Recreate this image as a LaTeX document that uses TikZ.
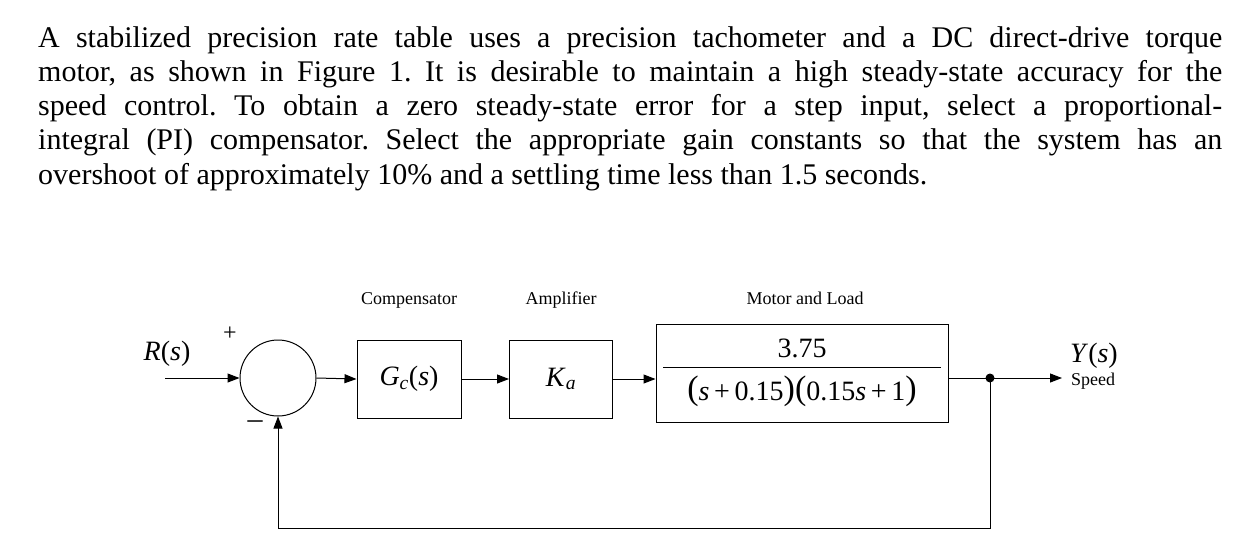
\documentclass[tikz,border=0pt]{standalone}
\usepackage{fontspec}
\setmainfont{Liberation Serif}
\frenchspacing
\usetikzlibrary{arrows.meta}
\newcommand{\iv}[1]{\textit{#1}}
\begin{document}
\begin{tikzpicture}[x=1pt,y=-1pt,
  blk/.style={draw,line width=1pt,inner sep=0pt},
  lab/.style={font=\fontsize{18}{20}\selectfont,anchor=base},
  big/.style={font=\fontsize{28}{30}\selectfont},
  sig/.style={line width=1pt,-{Triangle[length=12pt,width=9pt]}},
  wire/.style={line width=1pt}]
\useasboundingbox (0,0) rectangle (1256,558);
\node[anchor=north west,inner sep=0pt,align=left,font=\fontsize{30}{34.3}\selectfont] (para) at (38,26) {%
\makebox[1184pt][s]{A stabilized precision rate table uses a precision tachometer and a DC direct-drive torque}\\
\makebox[1184pt][s]{motor, as shown in Figure 1. It is desirable to maintain a high steady-state accuracy for the}\\
\makebox[1184pt][s]{speed control. To obtain a zero steady-state error for a step input, select a proportional-}\\
\makebox[1184pt][s]{integral (PI) compensator. Select the appropriate gain constants so that the system has an}\\
overshoot of approximately 10\% and a settling time less than 1.5 seconds.};
\node[draw,circle,line width=1pt,minimum size=76pt,inner sep=0pt] (sum) at (278,378) {};
\node[blk,minimum width=104pt,minimum height=78pt,big] (gc) at (409,379) {\iv{G}\textsubscript{\iv{c}}(\iv{s})};
\node[blk,minimum width=103pt,minimum height=78pt,big] (ka) at (561,379) {\iv{K}\textsubscript{\iv{a}}};
\node[blk,minimum width=292pt,minimum height=98pt] (ml) at (802,373) {};
\node[big,anchor=base] (num) at (802,357) {3.75};
\node[big,anchor=base] (den) at (802,400) {\raisebox{1pt}{\fontsize{34}{34}\selectfont(}\iv{s}\,+\,0.15\raisebox{1pt}{\fontsize{34}{34}\selectfont)(}0.15\iv{s}\,+\,1\raisebox{1pt}{\fontsize{34}{34}\selectfont)}};
\coordinate (fl) at (663,367);
\coordinate (fr) at (941,367);
\draw[line width=1pt] (fl) -- (fr);
\node[lab] (lc) at (409,304) {Compensator};
\node[lab] (la) at (561,304) {Amplifier};
\node[lab] (lm) at (805,304) {Motor and Load};
\coordinate (in) at (165,378);
\coordinate (br) at (990,378);
\coordinate (out) at (1062,378);
\coordinate (c1) at (990,528);
\coordinate (c2) at (278,528);
\fill (br) circle (4.5pt);
\draw[sig] (in) -- (sum.west);
\draw[sig] (sum.east) -- (gc.west);
\draw[sig] (gc.east) -- (ka.west);
\draw[sig] (ka.east) -- (ml.west |- ka.east);
\draw[wire] (ml.east |- br) -- (br);
\draw[sig] (br) -- (out);
\draw[sig] (br) -- (c1) -- (c2) -- (sum.south);
\node[big,anchor=base] (r) at (167,360) {\iv{R}(\iv{s})};
\node[font=\fontsize{24}{26}\selectfont] (plus) at (230,334) {+};
\node[font=\fontsize{30}{30}\selectfont] (minus) at (255,425) {\textendash};
\node[big,anchor=base] (y) at (1094,362) {\iv{Y}(\iv{s})};
\node[lab] (sp) at (1093,385) {Speed};
\end{tikzpicture}
\end{document}
